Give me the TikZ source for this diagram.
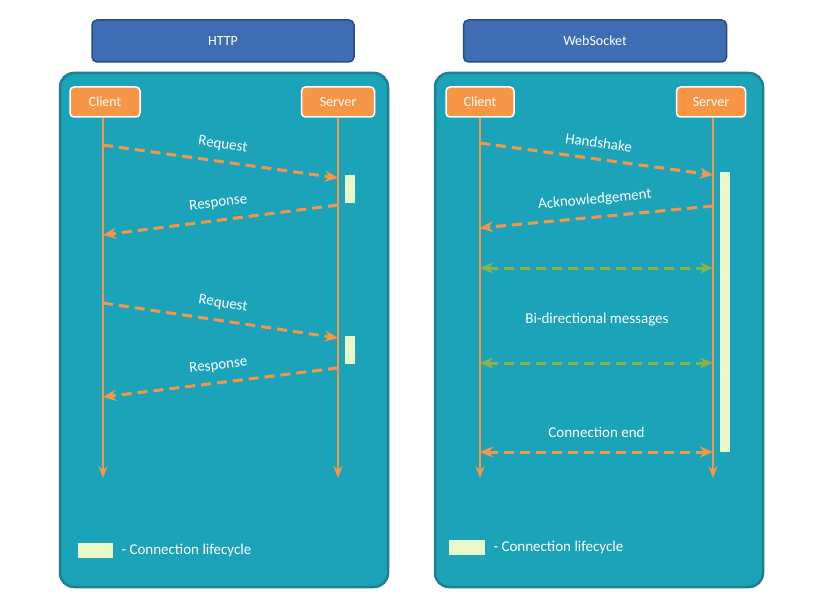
\documentclass[tikz,border=0pt]{standalone}
\usepackage{fontspec}
\setmainfont{Carlito}
\usetikzlibrary{arrows.meta}
\definecolor{panelteal}{HTML}{1BA3B9}
\definecolor{paneledge}{HTML}{1F7F90}
\definecolor{headblue}{HTML}{3F6DB3}
\definecolor{headedge}{HTML}{2A4D80}
\definecolor{lineorange}{HTML}{F79646}
\definecolor{msggreen}{HTML}{8DB14C}
\definecolor{lifegreen}{HTML}{EAF7C8}
\tikzset{
    panel/.style={draw=paneledge, line width=2.5pt, fill=panelteal, rounded corners=14pt}, % background panel
    header/.style={draw=headedge, line width=1.5pt, fill=headblue, rounded corners=5pt, text=white, font=\fontsize{14}{16}\selectfont},
    actor/.style={draw=white, line width=1.5pt, fill=lineorange, rounded corners=4pt, text=white, font=\fontsize{14}{16}\selectfont, minimum width=70pt, minimum height=30pt},
    life/.style={line width=2.5pt, draw=lineorange, -{Stealth[length=12pt,width=9pt]}},
    msg/.style={line width=3pt, draw=lineorange, dash pattern=on 10pt off 6pt, -{Stealth[length=13pt,width=11pt]}},
    bimsg/.style={line width=3pt, draw=msggreen, dash pattern=on 10pt off 6pt, {Stealth[length=13pt,width=11pt]}-{Stealth[length=13pt,width=11pt]}},
    lifecycle/.style={fill=lifegreen, draw=none},
    lbl/.style={text=white, font=\fontsize{15}{17}\selectfont},
}
\begin{document}
\begin{tikzpicture}[x=1pt,y=-1pt]
\useasboundingbox (0,0) rectangle (823,602);
\fill[white] (0,0) rectangle (823,602);
% HTTP side
\node[header, minimum width=262pt, minimum height=42pt] (httphead) at (223,41) {HTTP};
\draw[panel] (60,73) rectangle (388,587);
\node[actor] (hclient) at (105,102) {Client};
\node[actor, minimum width=73pt] (hserver) at (338,102) {Server};
\coordinate (hcend) at (103,478);
\coordinate (hsend) at (338,478);
\draw[life] (hclient.south -| hcend) -- (hcend);
\draw[life] (hserver.south -| hsend) -- (hsend);
\fill[lifecycle] (345,175) rectangle (355,203);
\fill[lifecycle] (345,336) rectangle (355,364);
\coordinate (hc1) at (103,145); \coordinate (hs1) at (338,178);
\coordinate (hs2) at (338,205); \coordinate (hc2) at (103,235);
\coordinate (hc3) at (103,303); \coordinate (hs3) at (338,338);
\coordinate (hs4) at (338,368); \coordinate (hc4) at (103,397);
\draw[msg] (hc1) -- node[lbl, above=6pt, sloped] {Request} (hs1);
\draw[msg] (hs2) -- node[lbl, above=6pt, sloped] {Response} (hc2);
\draw[msg] (hc3) -- node[lbl, above=6pt, sloped] {Request} (hs3);
\draw[msg] (hs4) -- node[lbl, above=6pt, sloped] {Response} (hc4);
\fill[lifecycle] (78,543) rectangle (113,558);
\node[lbl, anchor=west] (hlegend) at (118,550) {- Connection lifecycle};
% WebSocket side
\node[header, minimum width=263pt, minimum height=42pt] (wshead) at (595,41) {WebSocket};
\draw[panel] (435,73) rectangle (763,587);
\node[actor, minimum width=68pt] (wclient) at (480,102) {Client};
\node[actor, minimum width=69pt] (wserver) at (711,102) {Server};
\coordinate (wcend) at (480,478);
\coordinate (wsend) at (713,478);
\draw[life] (wclient.south -| wcend) -- (wcend);
\draw[life] (wserver.south -| wsend) -- (wsend);
\fill[lifecycle] (720,172) rectangle (730,452);
\coordinate (wc1) at (480,143); \coordinate (ws1) at (713,175);
\coordinate (ws2) at (713,206); \coordinate (wc2) at (480,228);
\coordinate (wc3) at (480,268); \coordinate (ws3) at (713,268);
\coordinate (wc4) at (480,363); \coordinate (ws4) at (713,363);
\coordinate (wc5) at (480,452); \coordinate (ws5) at (713,452);
\draw[msg] (wc1) -- node[lbl, above=6pt, sloped] {Handshake} (ws1);
\draw[msg] (ws2) -- node[lbl, above=6pt, sloped] {Acknowledgement} (wc2);
\draw[bimsg] (wc3) -- (ws3);
\node[lbl] (bidir) at (597,320) {Bi-directional messages};
\draw[bimsg] (wc4) -- (ws4);
\draw[msg, {Stealth[length=13pt,width=11pt]}-{Stealth[length=13pt,width=11pt]}] (wc5) -- node[lbl, above=10pt] {Connection end} (ws5);
\fill[lifecycle] (449,540) rectangle (485,555);
\node[lbl, anchor=west] (wlegend) at (490,547) {- Connection lifecycle};
\end{tikzpicture}
\end{document}
